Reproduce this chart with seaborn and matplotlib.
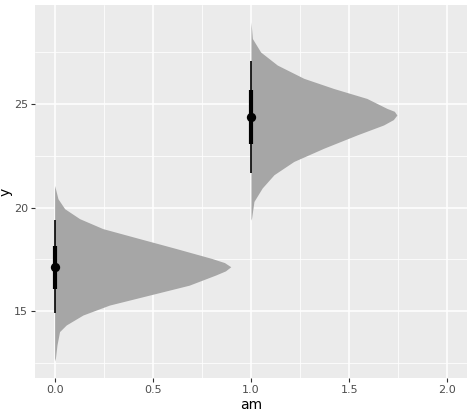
import numpy as np
import matplotlib
matplotlib.use("Agg")
import matplotlib.pyplot as plt
import seaborn as sns
from matplotlib.ticker import MultipleLocator

# groups (am) and their slab profiles
groups = [0, 1]

y0 = [12.6, 12.74, 13.38, 14.02, 14.34, 14.82, 15.30, 15.78, 16.26,
      16.75, 16.95, 17.15, 17.35, 17.55, 18.03, 18.51, 18.99, 19.47,
      19.95, 20.43, 21.07]
d0 = [0.0, 0.004, 0.012, 0.025, 0.059, 0.144, 0.279, 0.482, 0.685,
      0.82, 0.87, 0.897, 0.865, 0.80, 0.618, 0.431, 0.245, 0.127,
      0.051, 0.017, 0.0]

y1 = [19.4, 19.5, 20.30, 20.95, 21.59, 22.23, 22.87, 23.51, 23.99,
      24.25, 24.47, 24.65, 24.79, 25.27, 25.75, 26.24, 26.88, 27.51,
      28.16, 28.96]
d1 = [0.0, 0.003, 0.015, 0.057, 0.117, 0.218, 0.371, 0.54, 0.675,
      0.725, 0.743, 0.73, 0.692, 0.59, 0.421, 0.269, 0.134, 0.049,
      0.007, 0.0]

# median, 66% and 95% intervals
medians = [17.12, 24.37]
lo66 = [16.1, 23.08]
hi66 = [18.17, 25.67]
lo95 = [14.9, 21.68]
hi95 = [19.42, 27.07]

sns.set_theme(style="darkgrid", rc={
    "axes.facecolor": "#EBEBEB",
    "grid.color": "white",
    "axes.edgecolor": "#EBEBEB",
})
plt.rcParams["font.family"] = ["DejaVu Sans"]

fig = plt.figure(figsize=(4.74, 4.12), dpi=100)
ax = fig.add_axes([35 / 474, 1 - 378 / 412, 432 / 474, 373 / 412])

slabs = [(y0, d0), (y1, d1)]
for g, (ys, ds) in zip(groups, slabs):
    ys = np.array(ys)
    ds = np.array(ds)
    ax.fill_betweenx(ys, g, g + ds, color="#A6A6A6", linewidth=0, zorder=2)

for g, m, a, b, c, d in zip(groups, medians, lo66, hi66, lo95, hi95):
    ax.plot([g, g], [c, d], color="black", linewidth=1.2, zorder=3,
            solid_capstyle="butt")
    ax.plot([g, g], [a, b], color="black", linewidth=3.0, zorder=3,
            solid_capstyle="butt")

sns.scatterplot(x=groups, y=medians, color="black", s=45, ax=ax,
                zorder=4, linewidth=0)

ally = np.concatenate([y0, y1])
span = ally.max() - ally.min()
ax.set_ylim(ally.min() - 0.05 * span, ally.max() + 0.05 * span)
ax.set_xlim(-0.1, 2.1)

ax.xaxis.set_minor_locator(MultipleLocator(0.25))
ax.yaxis.set_major_locator(MultipleLocator(5))
ax.yaxis.set_minor_locator(MultipleLocator(2.5))
ax.set_xticks([0, 0.5, 1.0, 1.5, 2.0])
ax.set_xticklabels(["0.0", "0.5", "1.0", "1.5", "2.0"])
ax.grid(which="major", color="white", linewidth=1.1)
ax.grid(which="minor", color="white", linewidth=0.55)
ax.set_axisbelow(True)
for s in ax.spines.values():
    s.set_visible(False)

ax.tick_params(axis="both", which="major", length=3, width=0.8,
               color="#333333", labelsize=8, labelcolor="#4D4D4D", pad=2,
               bottom=True, left=True)
ax.tick_params(which="minor", length=0)
ax.set_xlabel("am", fontsize=10, color="black", labelpad=2)
ax.set_ylabel("y", fontsize=10, color="black", labelpad=2)
ax.yaxis.set_label_coords(-0.052, 0.5)

fig.savefig("out.png", dpi=100)
